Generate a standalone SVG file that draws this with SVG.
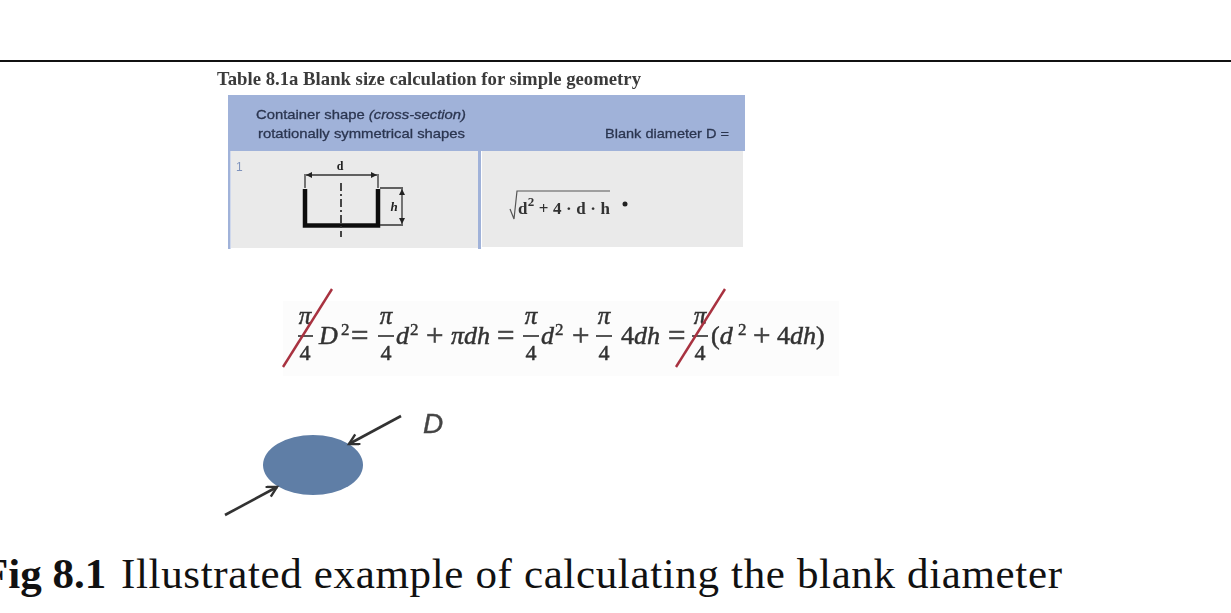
<svg xmlns="http://www.w3.org/2000/svg" width="1231" height="613" viewBox="0 0 1231 613">
<style>
text{font-family:"Liberation Serif","DejaVu Serif",serif;fill:#222}
.s{font-family:"Liberation Sans",Arial,sans-serif;font-size:13.5px;fill:#2b3550;stroke:#2b3550;stroke-width:.3}
.eq{font-size:26px;font-style:italic;fill:#333;stroke:#333;stroke-width:.5}
.up{font-style:normal}
.sup{font-size:17px;font-style:normal;fill:#333;stroke:#333;stroke-width:.4}
.op{font-size:31px;fill:#444;stroke:#444;stroke-width:.6}
.n{font-size:22px;fill:#333;stroke:#333;stroke-width:.5;text-anchor:middle}
.p{font-style:italic;font-size:25px;fill:#333;stroke:#333;stroke-width:.5;text-anchor:middle}
.bar{stroke:#444;stroke-width:1.8}
.red{stroke:#a8313f;stroke-width:2.4;fill:none}
.dim{stroke:#333;stroke-width:1.3;fill:none}
.arrow{stroke:#333;stroke-width:2.6;fill:none}
</style>
<defs>
<filter id="b" x="-5%" y="-5%" width="110%" height="110%"><feGaussianBlur stdDeviation="0.7"/></filter>
<marker id="ah" markerWidth="14" markerHeight="14" refX="11" refY="6" orient="auto" markerUnits="userSpaceOnUse"><path d="M1 0.5L11 6L1 11.5" fill="none" stroke="#333" stroke-width="2.4"/></marker>
<marker id="dh" markerWidth="7" markerHeight="7" refX="6" refY="3" orient="auto-start-reverse" markerUnits="userSpaceOnUse"><path d="M0 0L6 3L0 6Z" fill="#222"/></marker>
</defs>
<rect width="1231" height="613" fill="#fff"/>
<rect id="rule" x="0" y="60" width="1231" height="2" fill="#111"/>
<g id="table" filter="url(#b)">
<text x="217" y="85" font-size="19" font-weight="bold" style="fill:#3a3a3a" textLength="424" lengthAdjust="spacingAndGlyphs">Table 8.1a Blank size calculation for simple geometry</text>
<rect x="228" y="95" width="517" height="56" fill="#a0b2d9"/>
<rect x="231" y="151" width="247" height="97" fill="#eaeaea"/>
<rect x="482" y="151" width="261" height="96" fill="#eaeaea"/>
<rect x="228" y="151" width="2.5" height="98" fill="#a0b2d9"/>
<rect x="478" y="151" width="3" height="98" fill="#a0b2d9"/>
<text class="s" x="256" y="119" textLength="210" lengthAdjust="spacingAndGlyphs">Container shape <tspan font-style="italic">(cross-section)</tspan></text>
<text class="s" x="258" y="138" textLength="207" lengthAdjust="spacingAndGlyphs">rotationally symmetrical shapes</text>
<text class="s" x="605" y="138" textLength="124" lengthAdjust="spacingAndGlyphs">Blank diameter D =</text>
<text x="236" y="171" font-size="12" style="font-family:'Liberation Sans';fill:#7f93bd">1</text>
<path d="M305 189V225.500H378V189" fill="none" stroke="#111" stroke-width="4.5"/>
<path d="M305 188V174M378 188V174M380 188H403M380 225H403" class="dim"/>
<path d="M306 175H377" class="dim" marker-start="url(#dh)" marker-end="url(#dh)"/>
<path d="M402 189V224" class="dim" marker-start="url(#dh)" marker-end="url(#dh)"/>
<path d="M341 183V237" stroke="#333" stroke-width="1.8" stroke-dasharray="8 3 2 3" fill="none"/>
<text x="340" y="170" font-size="12" font-weight="bold" text-anchor="middle">d</text>
<text x="394" y="211" font-size="13" font-weight="bold" font-style="italic" text-anchor="middle">h</text>
<path d="M510 209L514 219L517 191H610" fill="none" stroke="#555" stroke-width="1.2"/>
<text x="518" y="214" font-size="17" font-weight="bold" style="fill:#333" textLength="92" lengthAdjust="spacing">d<tspan font-size="13" dy="-8">2</tspan><tspan dy="8"> + 4 · d · h</tspan></text>
<circle cx="625" cy="204" r="2.500" fill="#222"/>
</g>
<g id="equation" filter="url(#b)">
<rect x="283" y="301" width="556" height="75" fill="#fcfcfc"/>
<text class="p" x="305" y="324">π</text><path class="bar" d="M298 336H313"/><text class="n" x="305" y="360">4</text>
<text class="eq" x="319" y="344">D</text><text class="sup" x="341" y="335">2</text>
<text class="op" x="351" y="346">=</text>
<text class="p" x="386" y="324">π</text><path class="bar" d="M378 336H394"/><text class="n" x="386" y="360">4</text>
<text class="eq" x="396" y="344">d</text><text class="sup" x="410" y="335">2</text>
<text class="op" x="426" y="346">+</text>
<text class="eq" x="451" y="344">πdh</text>
<text class="op" x="497" y="346">=</text>
<text class="p" x="531" y="324">π</text><path class="bar" d="M523 336H539"/><text class="n" x="531" y="360">4</text>
<text class="eq" x="541" y="344">d</text><text class="sup" x="555" y="335">2</text>
<text class="op" x="572" y="346">+</text>
<text class="p" x="604" y="324">π</text><path class="bar" d="M596 336H612"/><text class="n" x="604" y="360">4</text>
<text class="eq" x="621" y="344"><tspan class="up">4</tspan>dh</text>
<text class="op" x="668" y="346">=</text>
<text class="p" x="700" y="324">π</text><path class="bar" d="M692 336H708"/><text class="n" x="700" y="360">4</text>
<text class="eq" x="711" y="344"><tspan class="up">(</tspan>d</text><text class="sup" x="738" y="335">2</text>
<text class="op" x="753" y="346">+</text>
<text class="eq" x="777" y="344"><tspan class="up">4</tspan>dh<tspan class="up">)</tspan></text>
<path class="red" d="M283 367L332 289"/>
<path class="red" d="M676 367L725 289"/>
</g>
<g id="blank" filter="url(#b)">
<ellipse cx="313" cy="465" rx="50" ry="30" fill="#5f7ea6"/>
<text x="423" y="433" font-size="28" font-style="italic" style="font-family:'Liberation Sans';fill:#444;stroke:#444;stroke-width:.4">D</text>
</g>
<g id="connectors" filter="url(#b)">
<path class="arrow" d="M401 416L349 444" marker-end="url(#ah)"/>
<path class="arrow" d="M225 515L277 487" marker-end="url(#ah)"/>
</g>
<g id="caption" font-size="43">
<text x="-18" y="588" font-weight="bold" style="fill:#111">Fig 8.1</text>
<text x="121" y="588" style="fill:#111" textLength="941" lengthAdjust="spacing">Illustrated example of calculating the blank diameter</text>
</g>
</svg>
